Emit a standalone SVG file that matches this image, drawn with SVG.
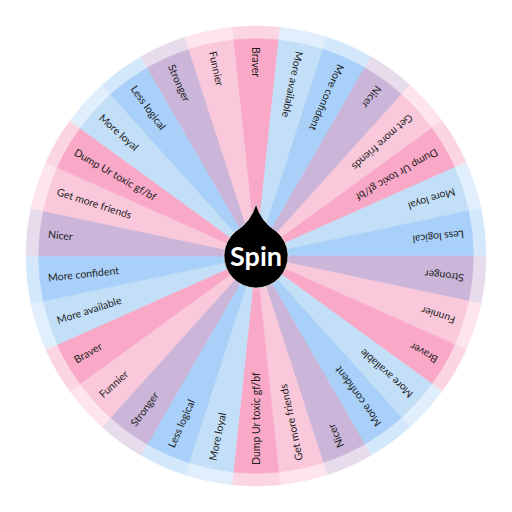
<svg xmlns="http://www.w3.org/2000/svg" xmlns:xlink="http://www.w3.org/1999/xlink" width="512" height="512" viewBox="0 0 512 512">
<style>
.lbl{font-family:"Lato","Noto Sans",sans-serif;font-size:10.5px;fill:#1e1e1e;}
.c0{fill:#f9a9c7;stroke:#f9a9c7}
.c1{fill:#c3dff8;stroke:#c3dff8}
.c2{fill:#a8d0f8;stroke:#a8d0f8}
.c3{fill:#cbb6da;stroke:#cbb6da}
.c4{fill:#f9c8da;stroke:#f9c8da}
.r0{fill:#fcd5e3;stroke:#fcd5e3}
.r1{fill:#e1effc;stroke:#e1effc}
.r2{fill:#d4e8fb;stroke:#d4e8fb}
.r3{fill:#e6dcec;stroke:#e6dcec}
.r4{fill:#fde4ed;stroke:#fde4ed}
path{stroke-width:0.6}
</style>
<defs>
<path id="w" d="M256,256 L233.213,39.194 A218,218 0 0 1 278.787,39.194 Z"/>
<path id="r" d="M233.213,39.194 L231.959,27.26 A230,230 0 0 1 280.041,27.26 L278.787,39.194 A218,218 0 0 0 233.213,39.194 Z"/>
</defs>
<g id="wheel">
<use xlink:href="#w" class="c0" transform="rotate(0 256 256)"/><use xlink:href="#r" class="r0" transform="rotate(0 256 256)"/>
<use xlink:href="#w" class="c1" transform="rotate(12 256 256)"/><use xlink:href="#r" class="r1" transform="rotate(12 256 256)"/>
<use xlink:href="#w" class="c2" transform="rotate(24 256 256)"/><use xlink:href="#r" class="r2" transform="rotate(24 256 256)"/>
<use xlink:href="#w" class="c3" transform="rotate(36 256 256)"/><use xlink:href="#r" class="r3" transform="rotate(36 256 256)"/>
<use xlink:href="#w" class="c4" transform="rotate(48 256 256)"/><use xlink:href="#r" class="r4" transform="rotate(48 256 256)"/>
<use xlink:href="#w" class="c0" transform="rotate(60 256 256)"/><use xlink:href="#r" class="r0" transform="rotate(60 256 256)"/>
<use xlink:href="#w" class="c1" transform="rotate(72 256 256)"/><use xlink:href="#r" class="r1" transform="rotate(72 256 256)"/>
<use xlink:href="#w" class="c2" transform="rotate(84 256 256)"/><use xlink:href="#r" class="r2" transform="rotate(84 256 256)"/>
<use xlink:href="#w" class="c3" transform="rotate(96 256 256)"/><use xlink:href="#r" class="r3" transform="rotate(96 256 256)"/>
<use xlink:href="#w" class="c4" transform="rotate(108 256 256)"/><use xlink:href="#r" class="r4" transform="rotate(108 256 256)"/>
<use xlink:href="#w" class="c0" transform="rotate(120 256 256)"/><use xlink:href="#r" class="r0" transform="rotate(120 256 256)"/>
<use xlink:href="#w" class="c1" transform="rotate(132 256 256)"/><use xlink:href="#r" class="r1" transform="rotate(132 256 256)"/>
<use xlink:href="#w" class="c2" transform="rotate(144 256 256)"/><use xlink:href="#r" class="r2" transform="rotate(144 256 256)"/>
<use xlink:href="#w" class="c3" transform="rotate(156 256 256)"/><use xlink:href="#r" class="r3" transform="rotate(156 256 256)"/>
<use xlink:href="#w" class="c4" transform="rotate(168 256 256)"/><use xlink:href="#r" class="r4" transform="rotate(168 256 256)"/>
<use xlink:href="#w" class="c0" transform="rotate(180 256 256)"/><use xlink:href="#r" class="r0" transform="rotate(180 256 256)"/>
<use xlink:href="#w" class="c1" transform="rotate(192 256 256)"/><use xlink:href="#r" class="r1" transform="rotate(192 256 256)"/>
<use xlink:href="#w" class="c2" transform="rotate(204 256 256)"/><use xlink:href="#r" class="r2" transform="rotate(204 256 256)"/>
<use xlink:href="#w" class="c3" transform="rotate(216 256 256)"/><use xlink:href="#r" class="r3" transform="rotate(216 256 256)"/>
<use xlink:href="#w" class="c4" transform="rotate(228 256 256)"/><use xlink:href="#r" class="r4" transform="rotate(228 256 256)"/>
<use xlink:href="#w" class="c0" transform="rotate(240 256 256)"/><use xlink:href="#r" class="r0" transform="rotate(240 256 256)"/>
<use xlink:href="#w" class="c1" transform="rotate(252 256 256)"/><use xlink:href="#r" class="r1" transform="rotate(252 256 256)"/>
<use xlink:href="#w" class="c2" transform="rotate(264 256 256)"/><use xlink:href="#r" class="r2" transform="rotate(264 256 256)"/>
<use xlink:href="#w" class="c3" transform="rotate(276 256 256)"/><use xlink:href="#r" class="r3" transform="rotate(276 256 256)"/>
<use xlink:href="#w" class="c4" transform="rotate(288 256 256)"/><use xlink:href="#r" class="r4" transform="rotate(288 256 256)"/>
<use xlink:href="#w" class="c0" transform="rotate(300 256 256)"/><use xlink:href="#r" class="r0" transform="rotate(300 256 256)"/>
<use xlink:href="#w" class="c1" transform="rotate(312 256 256)"/><use xlink:href="#r" class="r1" transform="rotate(312 256 256)"/>
<use xlink:href="#w" class="c2" transform="rotate(324 256 256)"/><use xlink:href="#r" class="r2" transform="rotate(324 256 256)"/>
<use xlink:href="#w" class="c3" transform="rotate(336 256 256)"/><use xlink:href="#r" class="r3" transform="rotate(336 256 256)"/>
<use xlink:href="#w" class="c4" transform="rotate(348 256 256)"/><use xlink:href="#r" class="r4" transform="rotate(348 256 256)"/>
</g>
<g id="labels">
<text class="lbl" x="47" y="256" dy="0.35em" transform="rotate(90 256 256)">Braver</text>
<text class="lbl" x="47" y="256" dy="0.35em" transform="rotate(102 256 256)">More available</text>
<text class="lbl" x="47" y="256" dy="0.35em" transform="rotate(114 256 256)">More confident</text>
<text class="lbl" x="47" y="256" dy="0.35em" transform="rotate(126 256 256)">Nicer</text>
<text class="lbl" x="47" y="256" dy="0.35em" transform="rotate(138 256 256)">Get more friends</text>
<text class="lbl" x="47" y="256" dy="0.35em" transform="rotate(150 256 256)">Dump Ur toxic gf/bf</text>
<text class="lbl" x="47" y="256" dy="0.35em" transform="rotate(162 256 256)">More loyal</text>
<text class="lbl" x="47" y="256" dy="0.35em" transform="rotate(174 256 256)">Less logical</text>
<text class="lbl" x="47" y="256" dy="0.35em" transform="rotate(186 256 256)">Stronger</text>
<text class="lbl" x="47" y="256" dy="0.35em" transform="rotate(198 256 256)">Funnier</text>
<text class="lbl" x="47" y="256" dy="0.35em" transform="rotate(210 256 256)">Braver</text>
<text class="lbl" x="47" y="256" dy="0.35em" transform="rotate(222 256 256)">More available</text>
<text class="lbl" x="47" y="256" dy="0.35em" transform="rotate(234 256 256)">More confident</text>
<text class="lbl" x="47" y="256" dy="0.35em" transform="rotate(246 256 256)">Nicer</text>
<text class="lbl" x="47" y="256" dy="0.35em" transform="rotate(258 256 256)">Get more friends</text>
<text class="lbl" x="47" y="256" dy="0.35em" transform="rotate(270 256 256)">Dump Ur toxic gf/bf</text>
<text class="lbl" x="47" y="256" dy="0.35em" transform="rotate(282 256 256)">More loyal</text>
<text class="lbl" x="47" y="256" dy="0.35em" transform="rotate(294 256 256)">Less logical</text>
<text class="lbl" x="47" y="256" dy="0.35em" transform="rotate(306 256 256)">Stronger</text>
<text class="lbl" x="47" y="256" dy="0.35em" transform="rotate(318 256 256)">Funnier</text>
<text class="lbl" x="47" y="256" dy="0.35em" transform="rotate(330 256 256)">Braver</text>
<text class="lbl" x="47" y="256" dy="0.35em" transform="rotate(342 256 256)">More available</text>
<text class="lbl" x="47" y="256" dy="0.35em" transform="rotate(354 256 256)">More confident</text>
<text class="lbl" x="47" y="256" dy="0.35em" transform="rotate(6 256 256)">Nicer</text>
<text class="lbl" x="47" y="256" dy="0.35em" transform="rotate(18 256 256)">Get more friends</text>
<text class="lbl" x="47" y="256" dy="0.35em" transform="rotate(30 256 256)">Dump Ur toxic gf/bf</text>
<text class="lbl" x="47" y="256" dy="0.35em" transform="rotate(42 256 256)">More loyal</text>
<text class="lbl" x="47" y="256" dy="0.35em" transform="rotate(54 256 256)">Less logical</text>
<text class="lbl" x="47" y="256" dy="0.35em" transform="rotate(66 256 256)">Stronger</text>
<text class="lbl" x="47" y="256" dy="0.35em" transform="rotate(78 256 256)">Funnier</text>
</g>
<g id="spin-button">
<path d="M256,204 Q261,222 276.6,231.5 A32,32 0 1 1 235.4,231.5 Q251,222 256,204 Z" fill="#000" stroke="#fff" stroke-width="4" stroke-linejoin="round"/>
<text x="256" y="266" text-anchor="middle" font-family="Lato,'Noto Sans',sans-serif" font-weight="bold" font-size="27" fill="#fff">Spin</text>
</g>
</svg>
